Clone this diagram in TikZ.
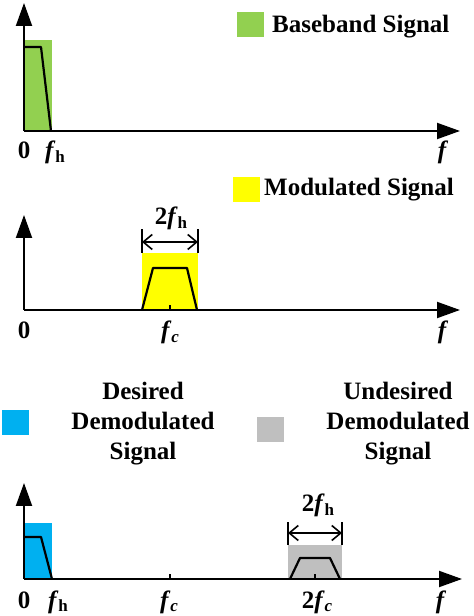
\documentclass[tikz,border=0pt]{standalone}
\usepackage{fontspec}
\setmainfont{Liberation Serif}
\usetikzlibrary{arrows.meta}
\definecolor{bandgreen}{HTML}{92D050}
\definecolor{bandyellow}{HTML}{FFFF00}
\definecolor{bandblue}{HTML}{00B0F0}
\definecolor{bandgray}{HTML}{BFBFBF}
\newcommand{\lowsub}[1]{\raisebox{-0.3ex}{\fontsize{17}{17}\selectfont #1}}
\newcommand{\fh}{\textit{f}\lowsub{h}}
\newcommand{\fc}{\textit{f}\lowsub{\textit{c}}}
\begin{document}
\begin{tikzpicture}[x=1pt, y=1pt, line join=round, font=\fontsize{25}{30}\selectfont\bfseries,
	axis/.style={line width=2pt, -{Triangle[length=23pt,width=16pt]}},
	curve/.style={line width=2.2pt},
	dim/.style={line width=1.6pt, {Straight Barb[length=9pt,width=15pt]}-{Straight Barb[length=9pt,width=15pt]}},
	bar/.style={line width=1.6pt},
	key/.style={minimum width=27pt, minimum height=25pt, inner sep=0pt},
	lbl/.style={anchor=base, inner sep=0pt}]
	\useasboundingbox (0,0) rectangle (474,616);
	% baseband
	\coordinate (O1) at (24,485);
	\coordinate (X1) at (460,485);
	\coordinate (Y1) at (24,613);
	\fill[bandgreen] (O1) rectangle (52,576);
	\draw[curve] (24,569)--(41,569)--(51,485);
	\draw[axis] (O1)--(X1);
	\draw[axis] (O1)--(Y1);
	\node[lbl] (zero1) at (24,457) {0};
	\node[lbl] (fh1) at (55,457) {\fh};
	\node[lbl] (f1) at (443,457) {\textit{f}};
	\node[key, fill=bandgreen] (key1) at (250.5,591.5) {};
	\node[anchor=base west, inner sep=0pt] (txt1) at (272,583) {Baseband Signal};
	% modulated
	\coordinate (O2) at (24,306);
	\coordinate (X2) at (460,306);
	\coordinate (Y2) at (24,401);
	\fill[bandyellow] (142,306) rectangle (198,363);
	\draw[curve] (142,306)--(153,348)--(187,348)--(197,306);
	\draw[bar] (170,306)--(170,311);
	\draw[axis] (O2)--(X2);
	\draw[axis] (O2)--(Y2);
	\coordinate (L2) at (142,374);
	\coordinate (R2) at (198,374);
	\draw[bar] (142,363)--(142,387) (198,363)--(198,387);
	\draw[dim] (L2)--(R2);
	\node[lbl] (bw2) at (171,391) {2\fh};
	\node[lbl] (zero2) at (24,277) {0};
	\node[lbl] (fc2) at (170,277) {\fc};
	\node[lbl] (f2) at (443,277) {\textit{f}};
	\node[key, fill=bandyellow] (key2) at (246.5,426.5) {};
	\node[anchor=base west, inner sep=0pt] (txt2) at (264,420) {Modulated Signal};
	% demodulated
	\node[key, fill=bandblue] (key3) at (15.5,193.5) {};
	\node[align=center, anchor=base, inner sep=0pt] (txt3) at (143,156) {Desired\\Demodulated\\Signal};
	\node[key, fill=bandgray] (key4) at (270.5,186.5) {};
	\node[align=center, anchor=base, inner sep=0pt] (txt4) at (398,156) {Undesired\\Demodulated\\Signal};
	\coordinate (O3) at (24,37);
	\coordinate (X3) at (462,37);
	\coordinate (Y3) at (24,133);
	\fill[bandblue] (O3) rectangle (52,93);
	\draw[curve] (24,79)--(41,79)--(52,37);
	\fill[bandgray] (288,37) rectangle (342,71);
	\draw[curve] (290,37)--(300,58)--(330,58)--(340,37);
	\draw[bar] (170,37)--(170,42) (315,37)--(315,42);
	\draw[axis] (O3)--(X3);
	\draw[axis] (O3)--(Y3);
	\coordinate (L3) at (288,83);
	\coordinate (R3) at (342,83);
	\draw[bar] (288,71)--(288,94) (342,71)--(342,94);
	\draw[dim] (L3)--(R3);
	\node[lbl] (bw3) at (318,104) {2\fh};
	\node[lbl] (zero3) at (24,8) {0};
	\node[lbl] (fh3) at (58,8) {\fh};
	\node[lbl] (fc3) at (169,8) {\fc};
	\node[lbl] (fc3b) at (317,8) {2\fc};
	\node[lbl] (f3) at (441,8) {\textit{f}};
\end{tikzpicture}
\end{document}
